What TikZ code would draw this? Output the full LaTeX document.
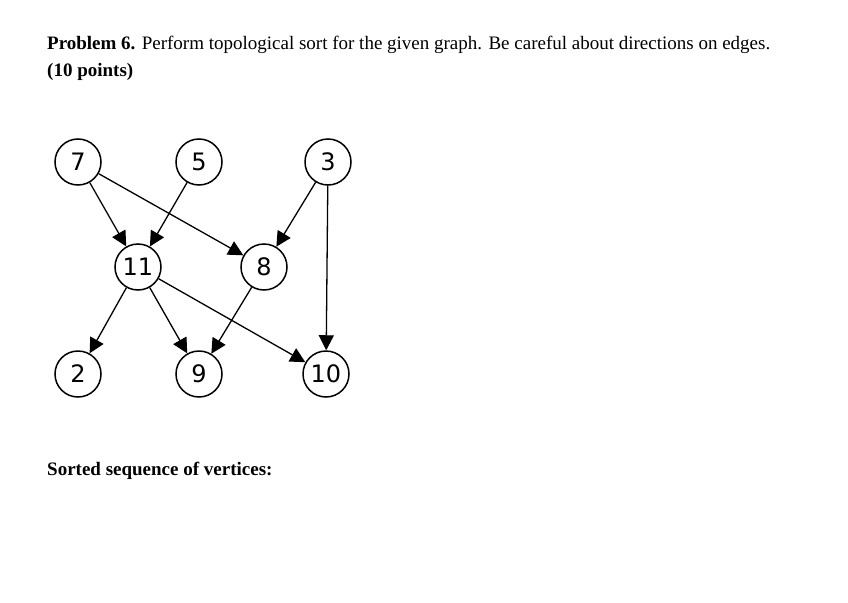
\documentclass[tikz,border=0pt]{standalone}
\usepackage{fontspec}
\setmainfont{Liberation Serif}
\newfontfamily\nodefont{DejaVu Sans}
\usetikzlibrary{arrows.meta}
\begin{document}
\begin{tikzpicture}[x=1pt,y=-1pt,
  vtx/.style={circle,draw,line width=1.5pt,minimum size=46pt,inner sep=0pt,font=\nodefont\fontsize{24}{24}\selectfont},
  edge/.style={line width=1.3pt,-{Triangle[length=15pt,width=15pt]}},
  txt/.style={anchor=base west,inner sep=0pt,font=\fontsize{19}{22}\selectfont}]
\useasboundingbox (0,0) rectangle (848,602);
\node[txt] (t1) at (47,50) {\textbf{Problem 6.} Perform topological sort for the given graph. Be careful about directions on edges.};
\node[txt] (t2) at (47,76) {\textbf{(10 points)}};
\node[txt] (t3) at (47,475) {\textbf{Sorted sequence of vertices:}};
\node[vtx] (n7) at (78,162) {7};
\node[vtx] (n5) at (199,162) {5};
\node[vtx] (n3) at (328,162) {3};
\node[vtx] (n11) at (138,267) {11};
\node[vtx] (n8) at (264,267) {8};
\node[vtx] (n2) at (78,374) {2};
\node[vtx] (n9) at (199,374) {9};
\node[vtx] (n10) at (326,374) {10};
\draw[edge] (n7) -- (n11);
\draw[edge] (n5) -- (n11);
\draw[edge] (n7) -- (n8);
\draw[edge] (n3) -- (n8);
\draw[edge] (n3) -- (n10);
\draw[edge] (n11) -- (n2);
\draw[edge] (n11) -- (n9);
\draw[edge] (n8) -- (n9);
\draw[edge] (n11) -- (n10);
\end{tikzpicture}
\end{document}
